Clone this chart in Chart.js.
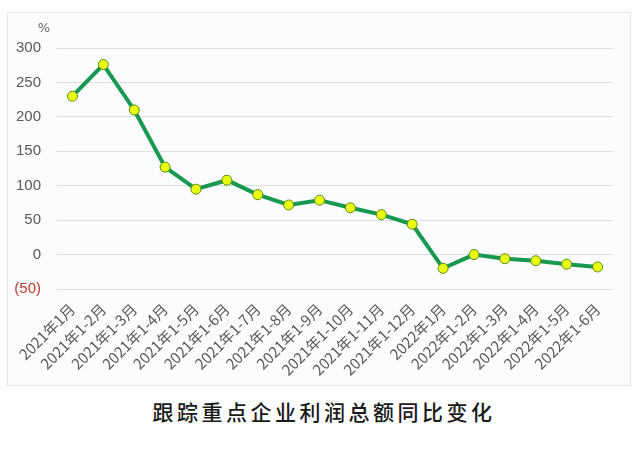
<!DOCTYPE html>
<html>
<head>
<meta charset="utf-8">
<script src="https://cdn.jsdelivr.net/npm/chart.js@4"></script>
<style>
  body { margin: 0; background: #fdfdfd; width: 640px; height: 450px; overflow: hidden; }
  #box { position: absolute; left: 7px; top: 12px; width: 622px; height: 372px; border: 1px solid #e3e4e6; background: #fbfcfe; }
  #title { position: absolute; left: 4px; top: 396px; width: 640px; text-align: center; font-family: "Noto Sans CJK SC"; font-size: 21px; letter-spacing: 3.5px; color: #1a1a1a; font-weight: 500; }
</style>
</head>
<body>
<div id="box"><canvas id="js--chart"></canvas></div>
<div id="title">跟踪重点企业利润总额同比变化</div>
<script>
const months = [
    "2021年1月", "2021年1-2月", "2021年1-3月", "2021年1-4月", "2021年1-5月", "2021年1-6月",
    "2021年1-7月", "2021年1-8月", "2021年1-9月", "2021年1-10月", "2021年1-11月", "2021年1-12月",
    "2022年1月", "2022年1-2月", "2022年1-3月", "2022年1-4月", "2022年1-5月", "2022年1-6月"
];

const profitGrowth = [230, 276, 210, 127, 95, 108, 87, 72, 79, 68, 58, 44, -20, 0, -6, -9, -14, -18];

const yMin = -50;
const yMax = 300;
const yStep = 50;

// "%" unit above the y axis
const unitLabel = {
    id: 'unitLabel',
    afterDraw(chart) {
        const ctx = chart.ctx;
        ctx.save();
        ctx.font = '13px "DejaVu Sans"';
        ctx.fillStyle = '#666';
        ctx.textAlign = 'center';
        ctx.fillText('%', 36, chart.chartArea.top - 16);
        ctx.restore();
    }
};

const data = {
    labels: months,
    datasets: [{
        data: profitGrowth,
        borderColor: '#17994f',
        borderWidth: 4,
        backgroundColor: '#e8ff14',
        pointBorderColor: '#5f8a10',
        pointBorderWidth: 1,
        pointRadius: 5,
        tension: 0
    }]
};

const config = {
    type: 'line',
    data: data,
    plugins: [unitLabel],
    options: {
        responsive: false,
        animation: false,
        layout: { padding: { top: 35, right: 17, left: 0, bottom: 0 } },
        plugins: { legend: { display: false }, tooltip: { enabled: false } },
        scales: {
            x: {
                offset: true,
                grid: { display: false, drawTicks: false },
                border: { display: false },
                afterFit: (s) => { s.paddingLeft = 0; s.paddingRight = 0; s.height = 96; },
                ticks: {
                    color: '#595959',
                    font: { family: '"Noto Sans CJK SC"', size: 15 },
                    maxRotation: 45, minRotation: 45,
                    autoSkip: false,
                    padding: 11
                }
            },
            y: {
                min: yMin,
                max: yMax,
                grid: { color: '#dcdde0', lineWidth: 1, drawTicks: false },
                border: { display: false },
                afterFit: (s) => { s.width = 49; },
                ticks: {
                    stepSize: yStep,
                    padding: 16,
                    font: { family: '"Liberation Sans"', size: 15 },
                    color: (c) => c.tick.value < 0 ? '#c0392b' : '#595959',
                    callback: (v) => v < 0 ? '(' + (-v) + ')' : v
                }
            }
        }
    }
};

const canvas = document.getElementById('js--chart');
canvas.width = 622;
canvas.height = 372;
new Chart(canvas, config);
</script>
</body>
</html>
